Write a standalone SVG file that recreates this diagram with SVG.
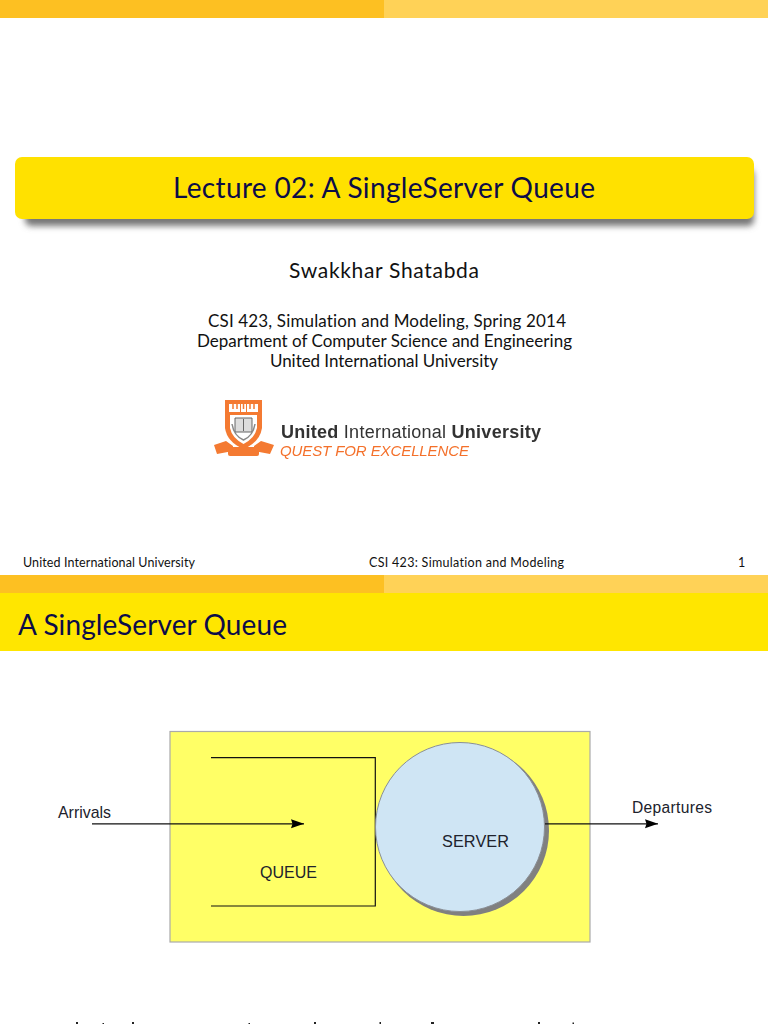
<svg xmlns="http://www.w3.org/2000/svg" width="768" height="1024" viewBox="0 0 768 1024">
<defs>
<style>
text{font-variant-ligatures:none}
.cm{font-family:"Lato","Open Sans",sans-serif;fill:#111}
.nv{fill:#0c0c48}
.d{font-family:"Liberation Sans",Arial,sans-serif;fill:#20222c}
.lg{font-family:"Liberation Sans",Arial,sans-serif;fill:#333}
.wire{fill:none;stroke:#111;stroke-width:1.2}
.o{fill:#f47a30}
</style>
<filter id="sh" x="-5%" y="-20%" width="110%" height="150%"><feGaussianBlur stdDeviation="3"/></filter>
<filter id="soft" x="-5%" y="-5%" width="110%" height="110%"><feGaussianBlur stdDeviation="0.35"/></filter>
<marker id="ah" markerWidth="14" markerHeight="10" refX="13" refY="5" orient="auto" markerUnits="userSpaceOnUse"><path d="M0 0.500L13 5L0 9.500L1.500 5Z" fill="#000"/></marker>
</defs>
<rect width="768" height="1024" fill="#fff"/>
<g id="slide1">
<rect width="384" height="18" fill="#fdc022"/>
<rect x="384" width="384" height="18" fill="#ffd257"/>
<g id="title-box">
<rect x="25" y="169" width="729" height="57" rx="6" fill="#777" filter="url(#sh)"/>
<rect x="15" y="157" width="739" height="62" rx="7" fill="#ffe100"/>
<text class="cm nv" x="173" y="198" font-size="28" textLength="422" lengthAdjust="spacing">Lecture 02: A SingleServer Queue</text>
</g>
<text class="cm" x="289" y="278" font-size="21" textLength="190">Swakkhar Shatabda</text>
<text class="cm" x="208" y="327" font-size="17" textLength="358">CSI 423, Simulation and Modeling, Spring 2014</text>
<text class="cm" x="197" y="347" font-size="17" textLength="375">Department of Computer Science and Engineering</text>
<text class="cm" x="270" y="367" font-size="17" textLength="228">United International University</text>
<g id="logo" filter="url(#soft)">
<path class="o" d="M225 400H262V428Q260 442 243.500 449Q227 442 225 428Z"/>
<path d="M230 415H257V428Q255 438 243.500 444Q232 438 230 428Z" fill="#fff"/>
<path d="M229 404H240V412H229ZM247 404H258V412H247Z" fill="#fff"/>
<rect x="241" y="404" width="5" height="8" fill="#fff"/>
<path d="M233 404V409M237 404V409M243.500 404V409M250 404V409M254 404V409" stroke="#f47a30" stroke-width="1.500"/>
<path d="M235 418H252V432H235Z" fill="#ddd" stroke="#666" stroke-width="1"/>
<path d="M243.500 419V431" stroke="#666" stroke-width="1"/>
<path d="M232 424Q234 436 243.500 440Q253 436 255 424" fill="none" stroke="#888" stroke-width="1.500"/>
<path class="o" d="M214 445L226 441L233 446V451L217 454ZM274 445L261 441L254 446V451L270 454Z"/>
<rect class="o" x="228" y="447" width="31" height="9" rx="2"/>
<text class="lg" x="281" y="438" font-size="18" textLength="260"><tspan font-weight="bold">United</tspan> International <tspan font-weight="bold">University</tspan></text>
<text x="280" y="456" font-size="15" font-style="italic" textLength="189" style="font-family:'Liberation Sans',sans-serif;fill:#f4702a">QUEST FOR EXCELLENCE</text>
</g>
<text class="cm" x="23" y="567" font-size="12.500" textLength="172">United International University</text>
<text class="cm" x="369" y="567" font-size="12.500" textLength="195">CSI 423: Simulation and Modeling</text>
<text class="cm" x="738" y="567" font-size="12.500">1</text>
</g>
<g id="slide2">
<rect y="575" width="384" height="18" fill="#fdc022"/>
<rect x="384" y="575" width="384" height="18" fill="#ffd257"/>
<rect y="593" width="768" height="58" fill="#ffe600"/>
<text class="cm nv" x="18" y="635" font-size="28" textLength="269">A SingleServer Queue</text>
<g id="system"><rect x="170" y="731.500" width="420" height="210.500" fill="#ffff66" stroke="#aaa" stroke-width="1.200"/></g>
<g id="queue">
<path class="wire" d="M211 757.700H375.300V906H211"/>
<text class="d" x="260" y="878" font-size="16" textLength="57">QUEUE</text>
</g>
<g id="server">
<circle cx="463.500" cy="830.500" r="85.500" fill="#808080"/>
<circle cx="460" cy="827" r="84.500" fill="#cfe5f4" stroke="#8a8f96" stroke-width="1"/>
<text class="d" x="442" y="847" font-size="16.300" textLength="67">SERVER</text>
</g>
<g id="connectors">
<path class="wire" d="M92 823.800H304" marker-end="url(#ah)"/>
<path class="wire" d="M545 823.800H658" marker-end="url(#ah)"/>
</g>
<text class="d" x="58" y="818" font-size="15.900" textLength="53">Arrivals</text>
<text class="d" x="632" y="813" font-size="15.600" textLength="80">Departures</text>
<path id="cut-off-line" d="M76 1022h2v2h-2zM102.500 1023h1.500v1h-1.500zM132 1022h2v2h-2zM248.500 1023h1.500v1h-1.500zM314 1022h2v2h-2zM379.500 1022h1.500v2h-1.500zM431 1022h3v2h-3zM538 1022h2v2h-2zM572.500 1022.500h1.500v1.500h-1.500z" fill="#222"/>
</g>
</svg>
